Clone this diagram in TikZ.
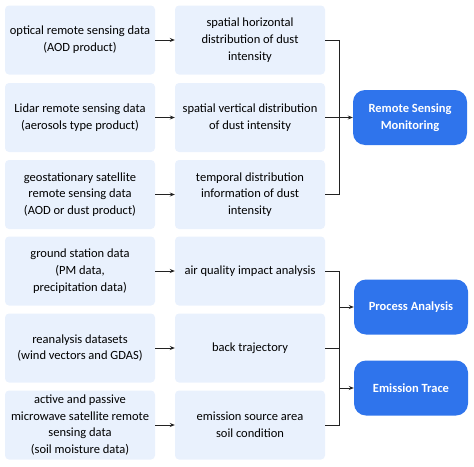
\documentclass[tikz,border=0pt]{standalone}
\usepackage{fontspec}
\setmainfont{Carlito}
\definecolor{boxfill}{HTML}{E9F1FD}
\definecolor{bluefill}{HTML}{2F74EC}
\definecolor{linecol}{HTML}{222222}
\usetikzlibrary{arrows.meta}
\begin{document}
\begin{tikzpicture}[x=1pt,y=-1pt,
    databox/.style={fill=boxfill,rounded corners=4pt,minimum width=150pt,minimum height=69pt,align=center,inner sep=1pt,
        font=\fontsize{12.5}{16.7}\selectfont},
    taskbox/.style={fill=bluefill,rounded corners=12pt,minimum width=114pt,minimum height=55pt,align=center,text=white,
        font=\fontsize{12.5}{16.7}\selectfont\bfseries},
    link/.style={draw=linecol,line width=0.8pt},
    arr/.style={link,-{Stealth[length=5pt,width=4pt]}}]
                \useasboundingbox (0,0) rectangle (474,466);

                \node[databox] (d1) at (80,40){optical remote sensing data\\(AOD product)};
                \node[databox] (d2) at (80,117.5){Lidar remote sensing data\\(aerosols type product)};
                \node[databox] (d3) at (80,194.5){geostationary satellite\\remote sensing data\\(AOD or dust product)};
                \node[databox] (d4) at (80,271){ground station data\\(PM data,\\precipitation data)};
                \node[databox] (d5) at (80,348){reanalysis datasets\\(wind vectors and GDAS)};
                \node[databox] (d6) at (80,425){active and passive\\microwave satellite remote\\sensing data\\(soil moisture data)};

                \node[databox] (m1) at (250,40){spatial horizontal\\distribution of dust\\intensity};
                \node[databox] (m2) at (250,117.5){spatial vertical distribution\\of dust intensity};
                \node[databox] (m3) at (250,194.5){temporal distribution\\information of dust\\intensity};
                \node[databox] (m4) at (250,271){air quality impact analysis};
                \node[databox] (m5) at (250,348){back trajectory};
                \node[databox] (m6) at (250,425){emission source area\\soil condition};

                \node[taskbox] (rsm) at (410,117.5){Remote Sensing\\Monitoring};
                \node[taskbox] (pa) at (411,307){Process Analysis};
                \node[taskbox] (et) at (411,388){Emission Trace};

                \coordinate (b1) at (339,40);
                \coordinate (b3) at (339,194.5);
                \coordinate (b4) at (339,271);
                \coordinate (b5) at (339,348);
                \coordinate (b6) at (339,425);
                \coordinate (pj) at (339,307);
                \coordinate (ej) at (339,388);

                \draw[arr] (d1) -- (m1);
                \draw[arr] (d2) -- (m2);
                \draw[arr] (d3) -- (m3);
                \draw[arr] (d4) -- (m4);
                \draw[arr] (d5) -- (m5);
                \draw[arr] (d6) -- (m6);

                \draw[link] (m1.east) -- (b1) -- (b3) -- (m3.east);
                \draw[arr] (m2) -- (rsm);

                \draw[link] (m4.east) -- (b4) -- (b6) -- (m6.east);
                \draw[link] (m5.east) -- (b5);
                \draw[arr] (pj) -- (pa);
                \draw[arr] (ej) -- (et);
            \end{tikzpicture}
\end{document}
